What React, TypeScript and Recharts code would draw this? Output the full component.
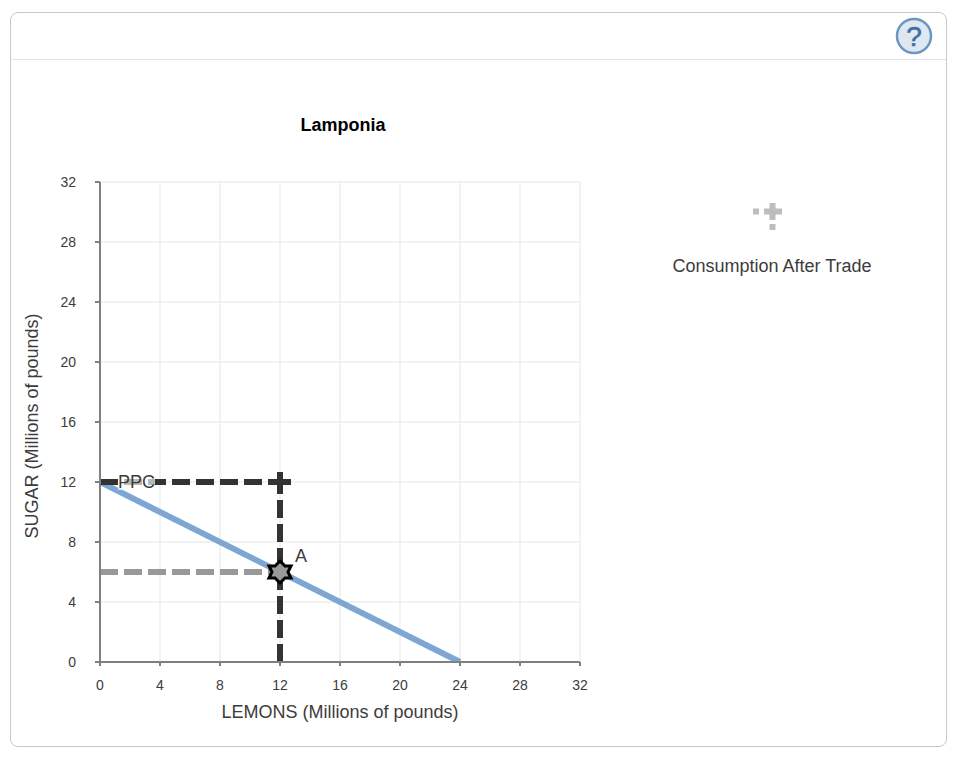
import { ComposedChart, Line, XAxis, YAxis, CartesianGrid, ReferenceDot, Label } from 'recharts';

const AXIS_TICKS = [0, 4, 8, 12, 16, 20, 24, 28, 32];
const PPC_LINE = [{ x: 0, y: 12 }, { x: 24, y: 0 }];
const SUGAR_GUIDE = [{ x: 0, y: 12 }, { x: 12, y: 12 }];
const LEMON_GUIDE = [{ x: 12, y: 0 }, { x: 12, y: 12 }];
const POINT_A_GUIDE = [{ x: 0, y: 6 }, { x: 12, y: 6 }];
const PPC_LABEL = { x: 0, y: 12, text: 'PPC' };
const POINT_A = { x: 12, y: 6, text: 'A' };
const AFTER_TRADE = { x: 12, y: 12 };

const FONT = '"Liberation Sans", Arial, sans-serif';
const TEXT = '#3c3c3c';
const DARK = '#333333';

const PlusMark = ({ cx, cy }: any) => (
  <g stroke={DARK} strokeWidth={6}>
    <line x1={cx - 11} x2={cx + 11} y1={cy} y2={cy} />
    <line x1={cx} x2={cx} y1={cy - 10} y2={cy + 10} />
  </g>
);

const StarMark = ({ cx, cy }: any) => {
  const pts = [
    [0, -11], [5, -6], [11, -6], [8, 0], [11, 6], [5, 6],
    [0, 11], [-5, 6], [-11, 6], [-8, 0], [-11, -6], [-5, -6],
  ];
  return (
    <g>
      <polygon
        points={pts.map(p => `${cx + p[0]},${cy + p[1]}`).join(' ')}
        fill="#999999"
        stroke="#000000"
        strokeWidth={3}
      />
      <text x={cx + 15} y={cy - 10} fontSize={18} fill={TEXT} fontFamily={FONT}>{POINT_A.text}</text>
    </g>
  );
};

const PpcTag = ({ cx, cy }: any) => (
  <g>
    <rect x={cx + 18} y={cy - 8} width={37} height={16} fill="#ffffff" fillOpacity={0.65} />
    <text x={cx + 18} y={cy + 6} fontSize={18} fill={TEXT} fontFamily={FONT}>{PPC_LABEL.text}</text>
  </g>
);

export default function App() {
  return (
    <div style={{ position: 'absolute', left: 0, top: 0, width: 971, height: 767, background: '#fff', fontFamily: FONT }}>
      <div style={{ position: 'absolute', left: 10, top: 12, width: 935, height: 733, border: '1px solid #c8c8c8', borderRadius: 8 }} />
      <div style={{ position: 'absolute', left: 11, top: 59, width: 935, height: 1, background: '#e4e4e4' }} />

      <svg width={40} height={40} style={{ position: 'absolute', left: 894, top: 16 }}>
        <circle cx={20} cy={20} r={17} fill="#dfe8f1" stroke="#6b97c4" strokeWidth={2.5} />
        <text x={20} y={30} textAnchor="middle" fontSize={28} fill="#3f6fa5" stroke="#3f6fa5" strokeWidth={0.6} fontFamily={FONT}>?</text>
      </svg>

      <div style={{ position: 'absolute', left: 243, width: 200, top: 115, textAlign: 'center', fontSize: 18, lineHeight: '20px', fontWeight: 'bold', color: '#000' }}>Lamponia</div>

      <ComposedChart
        width={971}
        height={767}
        margin={{ top: 182, left: 16, right: 391, bottom: 45 }}
        style={{ position: 'absolute', left: 0, top: 0 }}
      >
        <CartesianGrid stroke="#f2f2f2" strokeWidth={2} horizontalValues={AXIS_TICKS} verticalValues={AXIS_TICKS} />
        <XAxis
          type="number"
          dataKey="x"
          domain={[0, 32]}
          ticks={AXIS_TICKS}
          interval={0}
          height={60}
          tickSize={4}
          tickMargin={14}
          allowDataOverflow
          stroke="#808080"
          strokeWidth={2}
          tick={{ fontSize: 14, fill: TEXT, fontFamily: FONT }}
        >
          <Label value="LEMONS (Millions of pounds)" position="insideBottom" offset={4} fontSize={18} fill={TEXT} fontFamily={FONT} />
        </XAxis>
        <YAxis
          type="number"
          dataKey="y"
          domain={[0, 32]}
          ticks={AXIS_TICKS}
          interval={0}
          width={84}
          tickSize={5}
          tickMargin={19}
          allowDataOverflow
          stroke="#808080"
          strokeWidth={2}
          tick={{ fontSize: 14, fill: TEXT, fontFamily: FONT }}
        >
          <Label value="SUGAR (Millions of pounds)" angle={-90} position="insideLeft" offset={16} dy={4} fontSize={18} fill={TEXT} fontFamily={FONT} style={{ textAnchor: 'middle' }} />
        </YAxis>

        <Line data={PPC_LINE} dataKey="y" stroke="#7ca6d3" strokeWidth={6} dot={false} legendType="none" isAnimationActive={false} />
        <Line data={POINT_A_GUIDE} dataKey="y" stroke="#999999" strokeWidth={6} strokeDasharray="18 6" dot={false} isAnimationActive={false} />
        <Line data={SUGAR_GUIDE} dataKey="y" stroke={DARK} strokeWidth={6} strokeDasharray="18 6" dot={false} isAnimationActive={false} />
        <Line data={LEMON_GUIDE} dataKey="y" stroke={DARK} strokeWidth={6} strokeDasharray="18 6" dot={false} isAnimationActive={false} />

        <ReferenceDot x={AFTER_TRADE.x} y={AFTER_TRADE.y} shape={PlusMark} />
        <ReferenceDot x={POINT_A.x} y={POINT_A.y} shape={StarMark} />
        <ReferenceDot x={PPC_LABEL.x} y={PPC_LABEL.y} shape={PpcTag} />
      </ComposedChart>

      <svg width={40} height={34} style={{ position: 'absolute', left: 750, top: 200 }}>
        <g stroke="#bdbdbd" strokeWidth={6}>
          <line x1={3} x2={9} y1={11.5} y2={11.5} />
          <line x1={14} x2={32} y1={11.5} y2={11.5} />
          <line x1={22.5} x2={22.5} y1={3} y2={20} />
          <line x1={22.5} x2={22.5} y1={24} y2={30} />
        </g>
      </svg>
      <div style={{ position: 'absolute', left: 622, width: 300, top: 256, textAlign: 'center', fontSize: 18, lineHeight: '20px', color: TEXT }}>Consumption After Trade</div>
    </div>
  );
}
